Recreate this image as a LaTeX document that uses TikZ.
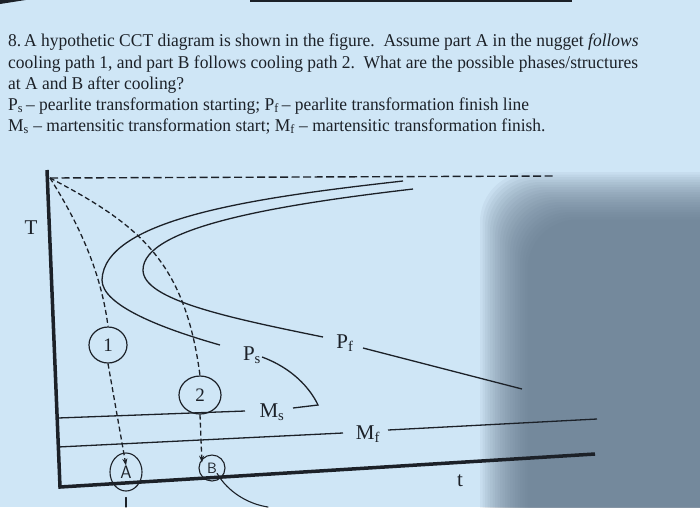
\documentclass[tikz,border=0pt]{standalone}
\usepackage{fontspec}
\setmainfont{Liberation Serif}
\usetikzlibrary{arrows.meta,shapes.geometric}
\definecolor{bg}{HTML}{CFE6F6}
\definecolor{ink}{HTML}{1C2128}
\definecolor{shadowc}{HTML}{5F7488}
\newcommand{\sqz}[1]{\scalebox{0.97}[1]{#1}}
\tikzset{
  txt/.style={anchor=base west, inner sep=0pt, text=ink, font=\fontsize{18}{20}\selectfont},
  lbl/.style={inner sep=0pt, text=ink, font=\fontsize{21}{24}\selectfont},
  curve/.style={draw=ink, line width=1.3pt},
  axis/.style={draw=ink, line width=3.5pt},
  topdash/.style={draw=ink, line width=1.4pt, dash pattern=on 8pt off 3.5pt},
  pathdash/.style={draw=ink, line width=1.3pt, dash pattern=on 5pt off 3pt},
  ring/.style={draw=ink, line width=1.2pt, ellipse, inner sep=0pt, text=ink, font=\fontsize{19}{22}\selectfont},
  hand/.style={draw=ink, line width=1.1pt, line cap=round},
  tip/.style={-{Stealth[length=7pt,width=5pt]}},
  shadowlayer/.style={fill=shadowc, fill opacity=0.07, rounded corners=50pt}
}
\begin{document}
\begin{tikzpicture}[x=1pt,y=-1pt]
\useasboundingbox (0,0) rectangle (700,507);
\fill[bg] (0,0) rectangle (700,507);
% soft shadow of the photo (right, lower part)
\foreach \i in {0,...,19}{
  \fill[shadowlayer] (480+2.5*\i,172+2.5*\i) rectangle (780,580);
}
% page edge at top
\fill[ink] (250,-1) rectangle (572,2);
\fill[ink] (0,-1) -- (32,-1) -- (0,4) -- cycle;

% question text
\node[txt] (l1) at (8,46) {\sqz{8.\,A hypothetic CCT diagram is shown in the figure.\ \ Assume part A in the nugget \textit{follows}}};
\node[txt] (l2) at (8,68) {\sqz{cooling path 1, and part B follows cooling path 2.\ \ What are the possible phases/structures}};
\node[txt] (l3) at (8,89) {\sqz{at A and B after cooling?}};
\node[txt] (l4) at (8,110) {\sqz{P\textsubscript{s}\,– pearlite transformation starting; P\textsubscript{f}\,– pearlite transformation finish line}};
\node[txt] (l5) at (8,131) {\sqz{M\textsubscript{s} – martensitic transformation start; M\textsubscript{f} – martensitic transformation finish.}};

% axes
\coordinate (o) at (60,487);
\coordinate (ytop) at (47,170);
\coordinate (xend) at (595,454);
\draw[axis] (ytop) -- (o) -- (xend);
\node[lbl] (T) at (31,228) {T};
\node[lbl] (t) at (460,481) {t};

% top dashed line
\coordinate (d0) at (50,178);
\coordinate (d1) at (555,176);
\draw[topdash] (d0) -- (d1);

% Ps curve (outer C)
\coordinate (ps0) at (403,181);
\coordinate (ps1) at (220,345);
\draw[curve] (ps0) .. controls (260,197) and (104,218) .. (102,280) .. controls (102,305) and (160,328) .. (ps1);
% Pf curve (inner C)
\coordinate (pf0) at (413,189);
\coordinate (pf1) at (323,337);
\draw[curve] (pf0) .. controls (285,204) and (143,226) .. (143,270) .. controls (143,300) and (230,318) .. (pf1);

\node[lbl] (Ps) at (252,355) {P\textsubscript{s}};
\node[lbl] (Pf) at (345,343) {P\textsubscript{f}};
\node[lbl] (Ms) at (272,412) {M\textsubscript{s}};
\node[lbl] (Mf) at (368,434) {M\textsubscript{f}};

% Pf continuation
\coordinate (pfa) at (363,348);
\coordinate (pfb) at (522,389);
\draw[curve] (pfa) -- (pfb);
% Ps continuation to Ms
\coordinate (psa) at (262,357);
\coordinate (psb) at (318,405);
\coordinate (psc) at (293,408);
\draw[curve] (psa) .. controls (292,368) and (310,388) .. (psb) -- (psc);
% Ms line
\coordinate (ms0) at (58,418);
\coordinate (ms1) at (245,411);
\draw[curve] (ms0) -- (ms1);
% Mf line
\coordinate (mf0) at (58,447);
\coordinate (mf1) at (343,433);
\coordinate (mf2) at (388,430);
\coordinate (mf3) at (597,419);
\draw[curve] (mf0) -- (mf1);
\draw[curve] (mf2) -- (mf3);

% cooling paths
\node[ring, minimum width=38pt, minimum height=36pt] (c1) at (108,345) {1};
\node[ring, minimum width=42pt, minimum height=38pt] (c2) at (200,395) {2};
\draw[pathdash] (d0) .. controls (70,210) and (100,262) .. (c1.north);
\draw[pathdash] (d0) .. controls (140,225) and (185,262) .. (c2.north);

% end points A, B (handwritten)
\node[inner sep=0pt, text=ink, font=\sffamily\fontsize{18}{20}\selectfont] (A) at (126,472) {A};
\node[inner sep=0pt, text=ink, font=\sffamily\fontsize{15}{18}\selectfont] (B) at (212,468) {B};
\draw[pathdash, tip] (c1.south) -- (A.north);
\draw[pathdash, tip] (c2.south) -- ([xshift=-5pt]B.north west);
\draw[hand] (A) ellipse [x radius=16pt, y radius=19pt];
\draw[hand] (B) ellipse [x radius=13pt, y radius=13pt];
\coordinate (at) at (126,507);
\draw[hand] ([yshift=-2pt]A.south) ++(0,17) -- (at);
\coordinate (bt) at (268,507);
\draw[hand] (B.south east) .. controls (228,492) and (248,504) .. (bt);
\end{tikzpicture}
\end{document}
